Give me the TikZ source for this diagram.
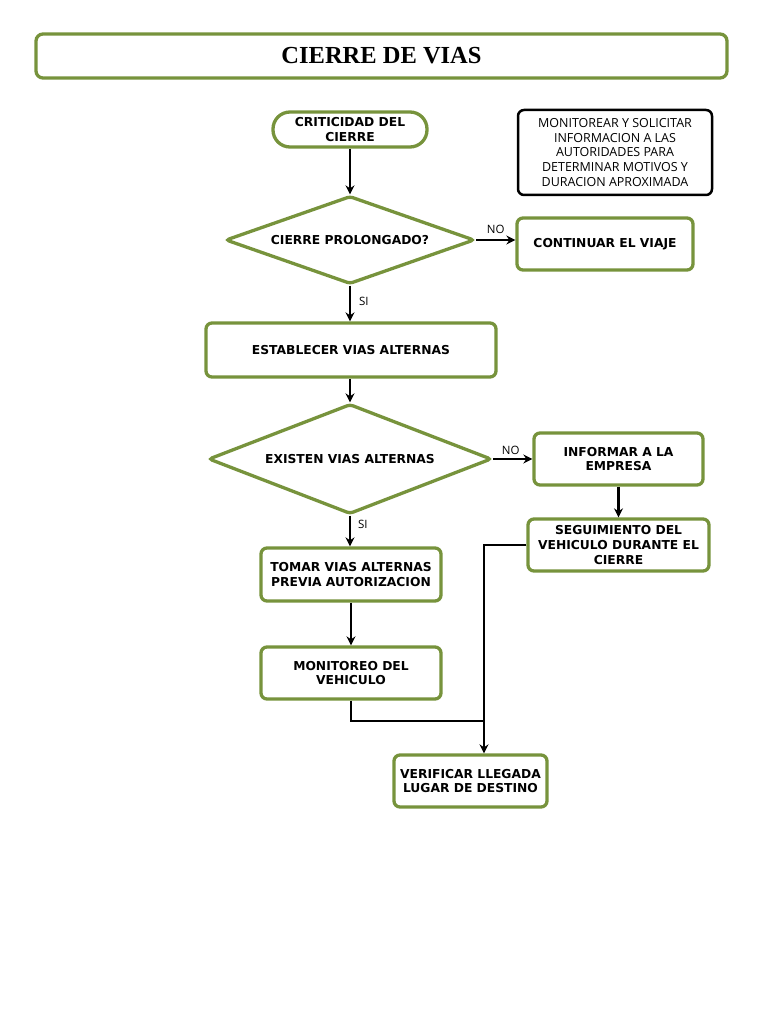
\documentclass[tikz,border=0pt]{standalone}
\usepackage{fontspec}
\setmainfont{DejaVu Sans}
\newfontfamily\titlefont{Liberation Serif}
\newfontfamily\notefont{Open Sans}
\usetikzlibrary{shapes.geometric,arrows.meta}
\definecolor{olive}{HTML}{77933C}
\tikzset{
  gbox/.style={draw=olive, line width=3.3pt, rounded corners=6pt, fill=white, align=center, font=\bfseries\fontsize{12.3}{14.8}\selectfont, inner sep=2pt},
  gdia/.style={draw=olive, line width=3.3pt, diamond, rounded corners=3pt, fill=white, align=center, font=\bfseries\fontsize{12.3}{14.8}\selectfont, inner sep=0pt},
  conn/.style={line width=2.2pt, -{Stealth[length=9pt,width=9pt]}},
  plain/.style={line width=2.2pt},
  lbl/.style={font=\notefont\fontsize{11.5}{12}\selectfont, inner sep=0pt}
}
\begin{document}
\begin{tikzpicture}[x=1pt,y=-1pt]
\useasboundingbox (0,0) rectangle (768,1024);
% title
\node[draw=olive, line width=3.3pt, rounded corners=7pt, minimum width=691pt, minimum height=44pt, font=\titlefont\bfseries\fontsize{24.5}{28}\selectfont] (title) at (381.5,56) {CIERRE DE VIAS};
% start
\node[gbox, rounded corners=17pt, minimum width=154pt, minimum height=35pt] (crit) at (350,129.5) {CRITICIDAD DEL\\CIERRE};
% note
\node[draw=black, line width=2.5pt, rounded corners=6pt, minimum width=194pt, minimum height=85pt, align=center, font=\notefont\fontsize{12.5}{14.7}\selectfont] (mon) at (615,152.5) {MONITOREAR Y SOLICITAR\\INFORMACION A LAS\\AUTORIDADES PARA\\DETERMINAR MOTIVOS Y\\DURACION APROXIMADA};
% diamond 1
\node[gdia, aspect=2.83, minimum width=249pt, minimum height=88pt] (d1) at (350,240) {CIERRE PROLONGADO?};
\node[gbox, minimum width=176pt, minimum height=52pt] (cont) at (605,244) {CONTINUAR EL VIAJE};
% establecer
\node[gbox, minimum width=290pt, minimum height=54pt] (est) at (351,350) {ESTABLECER VIAS ALTERNAS};
% diamond 2
\node[gdia, aspect=2.57, minimum width=283pt, minimum height=110pt] (d2) at (350,459) {EXISTEN VIAS ALTERNAS};
\node[gbox, minimum width=169pt, minimum height=52pt] (inf) at (618.5,459) {INFORMAR A LA\\EMPRESA};
\node[gbox, minimum width=181pt, minimum height=52pt] (seg) at (618.5,545) {SEGUIMIENTO DEL\\VEHICULO DURANTE EL\\CIERRE};
\node[gbox, minimum width=180pt, minimum height=53pt] (tom) at (351,574.5) {TOMAR VIAS ALTERNAS\\PREVIA AUTORIZACION};
\node[gbox, minimum width=180pt, minimum height=52pt] (moni) at (351,673) {MONITOREO DEL\\VEHICULO};
\node[gbox, minimum width=153pt, minimum height=52pt] (ver) at (470.5,781) {VERIFICAR LLEGADA\\LUGAR DE DESTINO};
% connectors
\draw[conn] (crit.south) -- (d1.north);
\draw[conn] (d1.east) -- (d1.east -| cont.west) node[lbl, pos=0.5, above=5pt] (no1) {NO};
\draw[conn] (d1.south) -- (d1.south |- est.north) node[lbl, pos=0.45, right=8pt] (si1) {SI};
\draw[conn] (est.south -| d2.north) -- (d2.north);
\draw[conn] (d2.east) -- (inf.west) node[lbl, pos=0.45, above=3pt] (no2) {NO};
\draw[conn] (inf.south) -- (seg.north);
\draw[conn] (d2.south) -- (d2.south |- tom.north) node[lbl, pos=0.3, right=7pt] (si2) {SI};
\draw[conn] (tom.south) -- (moni.north);
\coordinate (j1) at (484,721);
\draw[plain] (moni.south) |- (j1);
\draw[plain] (seg.west) -| (j1);
\draw[conn] (j1) -- (j1 |- ver.north);
\end{tikzpicture}
\end{document}
